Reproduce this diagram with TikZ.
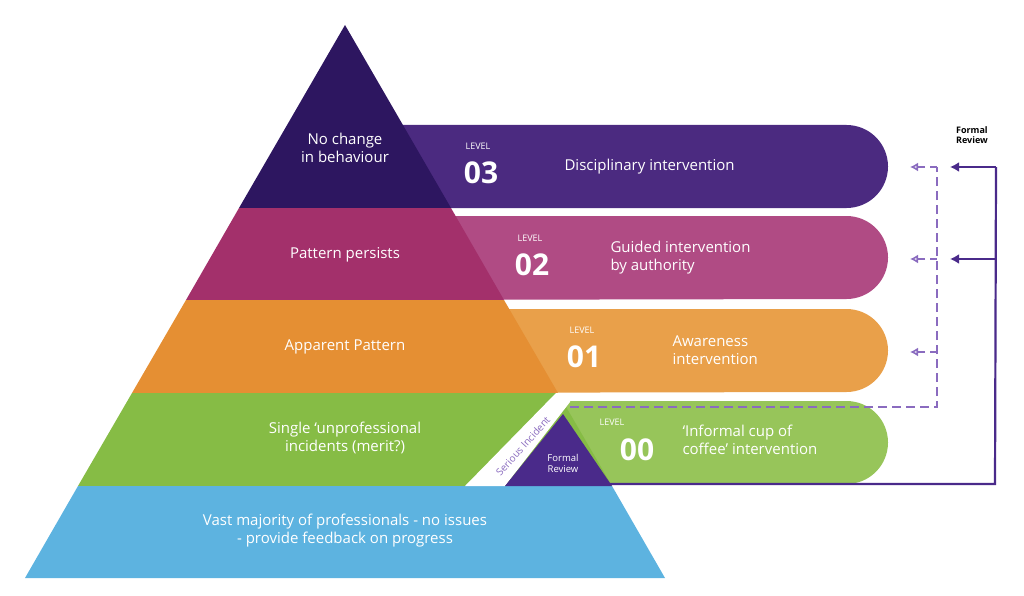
\documentclass[tikz,border=0pt]{standalone}
\usepackage{fontspec}
\setmainfont{Open Sans}
\usetikzlibrary{arrows.meta}
\definecolor{pyrA}{HTML}{2D1660}\definecolor{barA}{HTML}{4B2A80}
\definecolor{pyrB}{HTML}{A3306B}\definecolor{barB}{HTML}{B04B84}
\definecolor{pyrC}{HTML}{E58F33}\definecolor{barC}{HTML}{E9A04A}
\definecolor{pyrD}{HTML}{86BC45}\definecolor{barD}{HTML}{97C55A}
\definecolor{pyrE}{HTML}{5DB3E0}
\definecolor{dashc}{HTML}{8A6BBF}\definecolor{solidc}{HTML}{4A2A8A}
\tikzset{
 lbl/.style={text=white,font=\fontsize{15}{18}\selectfont,align=center},
 bartxt/.style={text=white,font=\fontsize{15}{18}\selectfont,align=left,anchor=west},
 lvl/.style={text=white,font=\fontsize{9}{10}\selectfont},
 num/.style={text=white,font=\fontsize{30}{30}\selectfont\bfseries},
 darr/.style={draw=dashc,line width=2pt,dash pattern=on 7pt off 5pt,-{Latex[open,length=8pt,width=9pt]}},
 sarr/.style={draw=solidc,line width=2.2pt,-{Latex[length=9pt,width=10pt]}}
}
\newcommand{\levelbar}[4]{\fill[#4] (#1,#2) -- (888-41.5,#2) arc(-90:90:41.5) -- (#1,#3) -- cycle;}
\begin{document}
\begin{tikzpicture}[x=1pt,y=-1pt]
\useasboundingbox (0,0) rectangle (1024,596);
% bars
\levelbar{350}{125}{208}{barA}
\levelbar{350}{216}{300}{barB}
\levelbar{350}{309}{393}{barC}
\fill[barD] (560,401) -- (888-41.5,401) arc(-90:90:41.5) -- (575,484) -- cycle;
% pyramid bands
\fill[pyrA] (345,25) -- (451,208) -- (239,208) -- cycle;
\fill[pyrB] (239,208) -- (451,208) -- (504,300) -- (186,300) -- cycle;
\fill[pyrC] (186,300) -- (504,300) -- (558,393) -- (132,393) -- cycle;
\fill[pyrD] (132,393) -- (558,393) -- (612,486) -- (78,486) -- cycle;
\fill[pyrE] (78,486) -- (612,486) -- (665,578) -- (25,578) -- cycle;
% serious incident strip
\fill[white] (465,486) -- (505,486) -- (570,402) -- (570,393) -- (556,393) -- cycle;
\fill[solidc] (505,486) -- (612,486) -- (563,414) -- cycle;
\node[rotate=48,text=dashc,font=\fontsize{10}{12}\selectfont] (si) at (523,446) {Serious Incident};
\node[text=white,font=\fontsize{9.5}{11}\selectfont,align=center] (fr) at (563,463) {Formal\\Review};
% pyramid labels
\node[lbl] (t3) at (345,148) {No change\\in behaviour};
\node[lbl] (t2) at (345,255) {Pattern persists};
\node[lbl] (t1) at (345,347) {Apparent Pattern};
\node[lbl] (t0) at (345,438) {Single ‘unprofessional\\incidents (merit?)};
\node[lbl] (tb) at (345,531) {Vast majority of professionals - no issues\\- provide feedback on progress};
% levels
\node[lvl] (l3) at (478,146) {LEVEL}; \node[num] (n3) at (481,173) {03};
\node[lvl] (l2) at (530,238) {LEVEL}; \node[num] (n2) at (532,265) {02};
\node[lvl] (l1) at (582,330) {LEVEL}; \node[num] (n1) at (584,357) {01};
\node[lvl] (l0) at (612,422) {LEVEL}; \node[num] (n0) at (637,450) {00};
\node[bartxt] (b3) at (561,167) {Disciplinary intervention};
\node[bartxt] (b2) at (607,258) {Guided intervention\\by authority};
\node[bartxt] (b1) at (669,350) {Awareness\\intervention};
\node[bartxt] (b0) at (679,440) {‘Informal cup of\\coffee’ intervention};
\node[font=\fontsize{9}{10}\selectfont\bfseries,align=left] (frt) at (972,135) {Formal\\Review};
% connectors
\coordinate (d0) at (570,407); \coordinate (d1) at (937,407);
\coordinate (dA) at (910,167); \coordinate (dB) at (910,259); \coordinate (dC) at (910,352);
\coordinate (dA0) at (937,167); \coordinate (dB0) at (937,259); \coordinate (dC0) at (937,352);
\draw[draw=dashc,line width=2pt,dash pattern=on 9pt off 5pt] (d0) -- (d1) -- (dA0);
\draw[darr] (dA0) -- (dA);
\draw[darr] (dB0) -- (dB);
\draw[darr] (dC0) -- (dC);
\coordinate (s0) at (590,484); \coordinate (s1) at (995,484);
\coordinate (sA0) at (996,167); \coordinate (sB0) at (996,259);
\coordinate (sA) at (950,167); \coordinate (sB) at (950,259);
\draw[draw=solidc,line width=2.2pt] (s0) -- (s1) -- (sA0);
\draw[sarr] (sA0) -- (sA);
\draw[sarr] (sB0) -- (sB);
\end{tikzpicture}
\end{document}
